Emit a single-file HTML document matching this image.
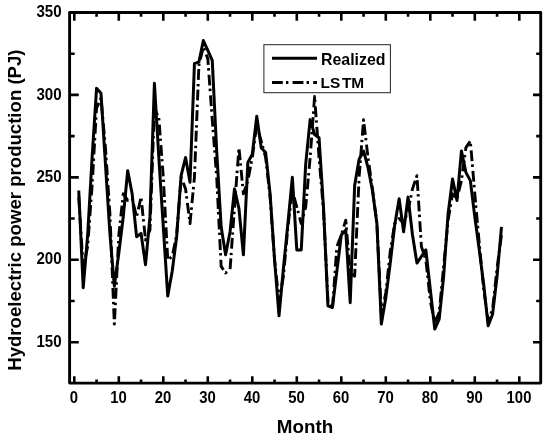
<!DOCTYPE html>
<html><head><meta charset="utf-8"><style>
html,body{margin:0;padding:0;background:#fff;}
svg{display:block;}
text{font-family:"Liberation Sans",Arial,sans-serif;font-weight:bold;fill:#000;}
</style></head><body>
<svg width="550" height="440" viewBox="0 0 550 440">
<rect x="0" y="0" width="550" height="440" fill="#fff"/>
<polyline points="78.75,197.12 83.20,268.01 87.65,246.58 92.10,185.58 96.55,108.09 101.00,98.20 105.45,147.66 109.90,213.61 114.35,324.07 118.80,235.04 123.25,193.82 127.70,200.42 132.15,198.77 136.60,216.90 141.05,197.12 145.50,239.99 149.95,230.09 154.40,108.09 158.85,117.98 163.30,177.34 167.75,259.77 172.20,256.47 176.65,235.04 181.10,177.34 185.55,188.88 190.00,223.50 194.45,177.34 198.90,65.22 203.35,47.09 207.80,58.63 212.25,119.63 216.70,177.34 221.15,266.36 225.60,272.96 230.05,269.66 234.50,207.01 238.95,147.66 243.40,193.82 247.85,180.63 252.30,157.55 256.75,124.58 261.20,141.06 265.65,157.55 270.10,197.12 274.55,259.77 279.00,300.99 283.45,276.26 287.90,226.80 292.35,190.52 296.80,207.01 301.25,223.50 305.70,207.01 310.15,157.55 314.60,96.55 319.05,157.55 323.50,210.31 327.95,300.99 332.40,309.23 336.85,246.58 341.30,235.04 345.75,220.20 350.20,272.96 354.65,276.26 359.10,177.34 363.55,119.63 368.00,157.55 372.45,188.88 376.90,223.50 381.35,314.18 385.80,292.74 390.25,251.53 394.70,223.50 399.15,218.55 403.60,223.50 408.05,210.31 412.50,188.88 416.95,175.69 421.40,246.58 425.85,259.77 430.30,300.99 434.75,322.42 439.20,312.53 443.65,266.36 448.10,220.20 452.55,193.82 457.00,198.77 461.45,180.63 465.90,147.66 470.35,141.06 474.80,193.82 479.25,243.28 483.70,289.45 488.15,320.77 492.60,309.23 497.05,268.01 501.50,235.04" fill="none" stroke="#000" stroke-width="2.9" stroke-dasharray="10.8 3.2 2.4 4.2" stroke-linejoin="round"/>
<polyline points="78.75,190.52 83.20,287.80 87.65,235.04 92.10,157.55 96.55,88.31 101.00,93.25 105.45,164.15 109.90,233.39 114.35,286.15 118.80,253.18 123.25,216.90 127.70,170.74 132.15,193.82 136.60,236.69 141.05,233.39 145.50,264.72 149.95,216.90 154.40,83.36 158.85,157.55 163.30,226.80 167.75,296.04 172.20,271.31 176.65,236.69 181.10,175.69 185.55,157.55 190.00,182.28 194.45,63.57 198.90,61.93 203.35,40.49 207.80,50.39 212.25,60.28 216.70,150.96 221.15,226.80 225.60,254.82 230.05,231.74 234.50,188.88 238.95,208.66 243.40,254.82 247.85,162.50 252.30,154.25 256.75,116.33 261.20,147.66 265.65,152.60 270.10,193.82 274.55,259.77 279.00,315.83 283.45,268.01 287.90,223.50 292.35,177.34 296.80,249.88 301.25,249.88 305.70,164.15 310.15,119.63 314.60,134.47 319.05,137.77 323.50,207.01 327.95,305.93 332.40,307.58 336.85,271.31 341.30,235.04 345.75,230.09 350.20,302.64 354.65,185.58 359.10,159.20 363.55,150.96 368.00,167.44 372.45,190.52 376.90,223.50 381.35,324.07 385.80,297.69 390.25,263.07 394.70,225.15 399.15,198.77 403.60,231.74 408.05,197.12 412.50,235.04 416.95,263.07 421.40,256.47 425.85,249.88 430.30,289.45 434.75,329.02 439.20,319.12 443.65,276.26 448.10,213.61 452.55,178.98 457.00,200.42 461.45,150.96 465.90,172.39 470.35,180.63 474.80,216.90 479.25,249.88 483.70,284.50 488.15,325.72 492.60,314.18 497.05,276.26 501.50,226.80" fill="none" stroke="#000" stroke-width="3" stroke-linejoin="round"/>
<path d="M74.30 383.1v-6.9M74.30 12.4v8.3M96.55 383.1v-3.5M96.55 12.4v4.3M118.80 383.1v-6.9M118.80 12.4v8.3M141.05 383.1v-3.5M141.05 12.4v4.3M163.30 383.1v-6.9M163.30 12.4v8.3M185.55 383.1v-3.5M185.55 12.4v4.3M207.80 383.1v-6.9M207.80 12.4v8.3M230.05 383.1v-3.5M230.05 12.4v4.3M252.30 383.1v-6.9M252.30 12.4v8.3M274.55 383.1v-3.5M274.55 12.4v4.3M296.80 383.1v-6.9M296.80 12.4v8.3M319.05 383.1v-3.5M319.05 12.4v4.3M341.30 383.1v-6.9M341.30 12.4v8.3M363.55 383.1v-3.5M363.55 12.4v4.3M385.80 383.1v-6.9M385.80 12.4v8.3M408.05 383.1v-3.5M408.05 12.4v4.3M430.30 383.1v-6.9M430.30 12.4v8.3M452.55 383.1v-3.5M452.55 12.4v4.3M474.80 383.1v-6.9M474.80 12.4v8.3M497.05 383.1v-3.5M497.05 12.4v4.3M519.30 383.1v-6.9M519.30 12.4v8.3M69.6 342.21h9.2M540.7 342.21h-7.7M69.6 300.99h5.1M540.7 300.99h-4.5M69.6 259.77h9.2M540.7 259.77h-7.7M69.6 218.55h5.1M540.7 218.55h-4.5M69.6 177.34h9.2M540.7 177.34h-7.7M69.6 136.12h5.1M540.7 136.12h-4.5M69.6 94.90h9.2M540.7 94.90h-7.7M69.6 53.68h5.1M540.7 53.68h-4.5M69.6 12.47h9.2M540.7 12.47h-7.7" stroke="#000" stroke-width="2.6" fill="none"/>
<rect x="69.6" y="12.5" width="471.1" height="370.6" fill="none" stroke="#000" stroke-width="2.9" stroke-linejoin="round"/>
<g font-size="14.9" text-anchor="middle"><text transform="translate(74.00,403.1) scale(1,1.09)">0</text><text transform="translate(118.50,403.1) scale(1,1.09)">10</text><text transform="translate(163.00,403.1) scale(1,1.09)">20</text><text transform="translate(207.50,403.1) scale(1,1.09)">30</text><text transform="translate(252.00,403.1) scale(1,1.09)">40</text><text transform="translate(296.50,403.1) scale(1,1.09)">50</text><text transform="translate(341.00,403.1) scale(1,1.09)">60</text><text transform="translate(385.50,403.1) scale(1,1.09)">70</text><text transform="translate(430.00,403.1) scale(1,1.09)">80</text><text transform="translate(474.50,403.1) scale(1,1.09)">90</text><text transform="translate(519.00,403.1) scale(1,1.09)">100</text></g>
<g font-size="15.1" text-anchor="end"><text transform="translate(61.6,346.91) scale(1,1.09)">150</text><text transform="translate(61.6,264.47) scale(1,1.09)">200</text><text transform="translate(61.6,182.03) scale(1,1.09)">250</text><text transform="translate(61.6,99.60) scale(1,1.09)">300</text><text transform="translate(61.6,17.17) scale(1,1.09)">350</text></g>
<text x="305" y="433.3" font-size="18.8" text-anchor="middle">Month</text>
<text transform="translate(21.0,210.1) rotate(-90)" font-size="18.6" text-anchor="middle">Hydroelectric power production (PJ)</text>
<rect x="263.9" y="44.7" width="126.5" height="48" fill="#fff" stroke="#222" stroke-width="1"/>
<path d="M272 58.2H317" stroke="#000" stroke-width="3"/>
<path d="M272 82.5H317" stroke="#000" stroke-width="3" stroke-dasharray="10.8 3.2 2.4 4.2"/>
<text x="321" y="64.8" font-size="15.9">Realized</text>
<text x="320.6 329.9 342.1 351.2" y="87.6" font-size="15.4">LSTM</text>
</svg>
</body></html>
